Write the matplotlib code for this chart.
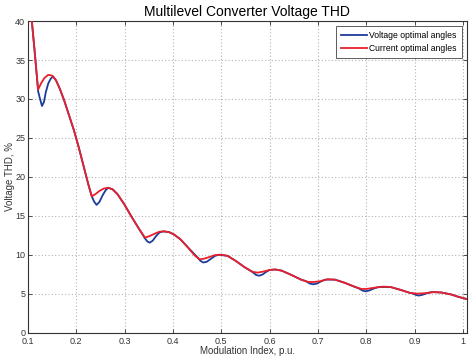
import matplotlib
matplotlib.use("Agg")
import matplotlib.pyplot as plt
from matplotlib.ticker import FuncFormatter

plt.rcParams['font.family'] = ['Liberation Sans', 'DejaVu Sans']

title = "Multilevel Converter Voltage THD"
xlabel = "Modulation Index, p.u."
ylabel = "Voltage THD, %"
series_names = ["Voltage optimal angles", "Current optimal angles"]

red_x = [0.108, 0.114, 0.121, 0.127, 0.134, 0.142, 0.150, 0.158, 0.166, 0.175,
         0.185, 0.195, 0.205, 0.215, 0.225, 0.232, 0.240, 0.248, 0.257, 0.266,
         0.275, 0.285, 0.300, 0.315, 0.330, 0.342, 0.352, 0.362, 0.372, 0.382,
         0.392, 0.402, 0.415, 0.430, 0.445, 0.455, 0.465, 0.475, 0.487, 0.500,
         0.513, 0.530, 0.548, 0.565, 0.575, 0.588, 0.600, 0.612, 0.625, 0.645,
         0.665, 0.680, 0.692, 0.705, 0.720, 0.735, 0.755, 0.775, 0.790, 0.800,
         0.815, 0.835, 0.850, 0.870, 0.890, 0.905, 0.920, 0.940, 0.955, 0.975,
         0.990, 1.008]
red_y = [40.0, 36.0, 31.2, 32.0, 32.7, 33.1, 33.0, 32.4, 31.3, 29.8,
         27.9, 26.0, 23.8, 21.4, 19.0, 17.5, 17.8, 18.2, 18.5, 18.6,
         18.4, 17.8, 16.4, 14.8, 13.3, 12.2, 12.4, 12.7, 12.95, 13.0,
         12.9, 12.6, 12.0, 11.0, 9.9, 9.4, 9.5, 9.7, 9.95, 10.0,
         9.85, 9.2, 8.4, 7.8, 7.7, 7.85, 8.05, 8.1, 7.95, 7.4,
         6.8, 6.5, 6.5, 6.6, 6.85, 6.8, 6.4, 5.9, 5.6, 5.6,
         5.75, 5.9, 5.85, 5.5, 5.1, 5.0, 5.05, 5.2, 5.15, 4.9,
         4.6, 4.3]

blue_x = [0.108, 0.114, 0.121, 0.125, 0.129, 0.133, 0.137, 0.142, 0.147, 0.152,
          0.158, 0.166, 0.175, 0.185, 0.195, 0.205, 0.215, 0.225, 0.232, 0.237,
          0.242, 0.248, 0.255, 0.261, 0.266, 0.275, 0.285, 0.300, 0.315, 0.330,
          0.342, 0.347, 0.352, 0.358, 0.365, 0.372, 0.380, 0.392, 0.402, 0.415,
          0.430, 0.450, 0.457, 0.463, 0.470, 0.478, 0.487, 0.495, 0.513, 0.530,
          0.548, 0.565, 0.572, 0.578, 0.585, 0.593, 0.600, 0.612, 0.625, 0.645,
          0.665, 0.675, 0.683, 0.690, 0.698, 0.707, 0.715, 0.735, 0.755, 0.775,
          0.785, 0.792, 0.798, 0.806, 0.815, 0.825, 0.850, 0.870, 0.890, 0.895,
          0.902, 0.908, 0.916, 0.925, 0.935, 0.955, 0.975, 0.990, 1.008]
blue_y = [40.0, 36.0, 31.0, 30.0, 29.1, 29.6, 30.9, 32.0, 32.6, 32.9,
          32.4, 31.3, 29.8, 27.9, 26.0, 23.8, 21.4, 19.0, 17.5, 16.8,
          16.4, 16.8, 17.7, 18.3, 18.6, 18.4, 17.8, 16.4, 14.8, 13.3,
          12.1, 11.7, 11.55, 11.8, 12.4, 12.85, 13.0, 12.9, 12.6, 12.0,
          11.0, 9.7, 9.2, 9.0, 9.1, 9.45, 9.85, 10.0, 9.85, 9.2,
          8.4, 7.75, 7.4, 7.3, 7.45, 7.8, 8.05, 8.1, 7.95, 7.4,
          6.8, 6.6, 6.3, 6.2, 6.3, 6.6, 6.8, 6.8, 6.4, 5.9,
          5.65, 5.4, 5.3, 5.4, 5.65, 5.85, 5.85, 5.5, 5.1, 5.05,
          4.85, 4.75, 4.85, 5.05, 5.2, 5.15, 4.9, 4.6, 4.3]

x_ticks = [0.1, 0.2, 0.3, 0.4, 0.5, 0.6, 0.7, 0.8, 0.9, 1.0]
y_ticks = [0, 5, 10, 15, 20, 25, 30, 35, 40]

fig = plt.figure(figsize=(4.74, 3.58), dpi=100)
ax = fig.add_axes([0.059, 0.071, 0.926, 0.870])

ax.plot(blue_x, blue_y, color='#1c3c9c', lw=1.3, label=series_names[0], zorder=3)
ax.plot(red_x, red_y, color='#e8202c', lw=1.3, label=series_names[1], zorder=4)

ax.set_xlim(0.1, 1.008)
ax.set_ylim(0, 40)
ax.set_xticks(x_ticks)
ax.set_yticks(y_ticks)
ax.xaxis.set_major_formatter(FuncFormatter(lambda v, p: '%g' % round(v, 3)))
ax.grid(True, color='#b4b4b4', linestyle=(0, (1, 2)), linewidth=0.8)
ax.tick_params(direction='in', top=True, right=True, length=3, width=0.6,
               labelsize=6.5, labelcolor='#333333', color='#333333', pad=2)
ax.tick_params(axis='x', pad=3)
for s in ax.spines.values():
    s.set_linewidth(0.8)
    s.set_color('#333333')

ax.set_title(title, fontsize=10, pad=4)
ax.set_xlabel(xlabel, fontsize=7, color='#333333', labelpad=0)
ax.set_ylabel(ylabel, fontsize=7, color='#333333', labelpad=0)

leg = ax.legend(loc='upper right', fontsize=6.2, frameon=True, fancybox=False,
                handlelength=3.0, borderpad=0.55, labelspacing=0.45,
                handletextpad=0.3, borderaxespad=0.6)
leg.get_frame().set_edgecolor('#333333')
leg.get_frame().set_linewidth(0.7)

fig.savefig('out.png', dpi=100)
